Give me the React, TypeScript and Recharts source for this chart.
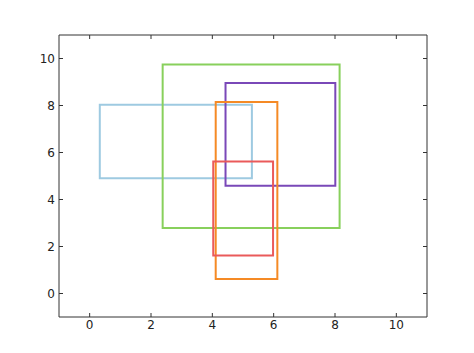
import React from 'react';
import { ComposedChart, XAxis, YAxis, ReferenceArea } from 'recharts';

const rectIds = ['blue', 'green', 'purple', 'orange', 'red'];
const rectX1 = [0.33, 2.38, 4.43, 4.11, 4.03];
const rectX2 = [5.29, 8.15, 8.01, 6.12, 5.98];
const rectY1 = [4.9, 2.79, 4.59, 0.62, 1.62];
const rectY2 = [8.03, 9.74, 8.96, 8.15, 5.62];

const xTicks = [0, 2, 4, 6, 8, 10];
const yTicks = [0, 2, 4, 6, 8, 10];
const xDomain = [-1, 11];
const yDomain = [-1, 11];

const COLORS = ['#9ecae1', '#88d05c', '#7a48b8', '#f58a25', '#ea5a5a'];
const AXIS = '#333';
const FONT = 'DejaVu Sans, sans-serif';
const TICK_LEN = 4;

const BottomTick = (props: any) => {
  const { x, y, payload } = props;
  const axisY = y - 8;
  return (
    <g>
      <line x1={x} x2={x} y1={axisY} y2={axisY - TICK_LEN} stroke={AXIS} strokeWidth={1} />
      <text x={x} y={axisY + 12} textAnchor="middle" fontFamily={FONT} fontSize={12} fill="#222">
        {payload.value}
      </text>
    </g>
  );
};

const TopTick = (props: any) => {
  const { x, y } = props;
  const axisY = y + 8;
  return <line x1={x} x2={x} y1={axisY} y2={axisY + TICK_LEN} stroke={AXIS} strokeWidth={1} />;
};

const LeftTick = (props: any) => {
  const { x, y, payload } = props;
  const axisX = x + 4;
  return (
    <g>
      <line x1={axisX} x2={axisX + TICK_LEN} y1={y} y2={y} stroke={AXIS} strokeWidth={1} />
      <text x={axisX - 4} y={y + 4.5} textAnchor="end" fontFamily={FONT} fontSize={12} fill="#222">
        {payload.value}
      </text>
    </g>
  );
};

const RightTick = (props: any) => {
  const { x, y } = props;
  const axisX = x - 4;
  return <line x1={axisX} x2={axisX - TICK_LEN} y1={y} y2={y} stroke={AXIS} strokeWidth={1} />;
};

export default function App() {
  return (
    <div style={{ position: 'absolute', left: 0, top: 0, width: 474, height: 353, background: '#fff' }}>
      <ComposedChart
        width={474}
        height={353}
        data={[]}
        margin={{ top: 5, right: 17, bottom: 6, left: 29 }}
      >
        <XAxis
          xAxisId="bottom"
          type="number"
          dataKey="x"
          domain={xDomain}
          ticks={xTicks}
          allowDataOverflow
          orientation="bottom"
          height={30}
          tickSize={0}
          tickMargin={8}
          tick={<BottomTick />}
          axisLine={{ stroke: AXIS, strokeWidth: 1 }}
          tickLine={false}
          interval={0}
        />
        <XAxis
          xAxisId="top"
          type="number"
          dataKey="x"
          domain={xDomain}
          ticks={xTicks}
          allowDataOverflow
          orientation="top"
          height={30}
          tickSize={0}
          tickMargin={8}
          tick={<TopTick />}
          axisLine={{ stroke: AXIS, strokeWidth: 1 }}
          tickLine={false}
          interval={0}
        />
        <YAxis
          yAxisId="left"
          type="number"
          dataKey="y"
          domain={yDomain}
          ticks={yTicks}
          allowDataOverflow
          orientation="left"
          width={30}
          tickSize={0}
          tickMargin={4}
          tick={<LeftTick />}
          axisLine={{ stroke: AXIS, strokeWidth: 1 }}
          tickLine={false}
          interval={0}
        />
        <YAxis
          yAxisId="right"
          type="number"
          dataKey="y"
          domain={yDomain}
          ticks={yTicks}
          allowDataOverflow
          orientation="right"
          width={30}
          tickSize={0}
          tickMargin={4}
          tick={<RightTick />}
          axisLine={{ stroke: AXIS, strokeWidth: 1 }}
          tickLine={false}
          interval={0}
        />
        {rectIds.map((id, i) => (
          <ReferenceArea
            key={id}
            xAxisId="bottom"
            yAxisId="left"
            x1={rectX1[i]}
            x2={rectX2[i]}
            y1={rectY1[i]}
            y2={rectY2[i]}
            fill="none"
            fillOpacity={0}
            stroke={COLORS[i]}
            strokeWidth={2}
            strokeOpacity={1}
            ifOverflow="visible"
          />
        ))}
      </ComposedChart>
    </div>
  );
}
